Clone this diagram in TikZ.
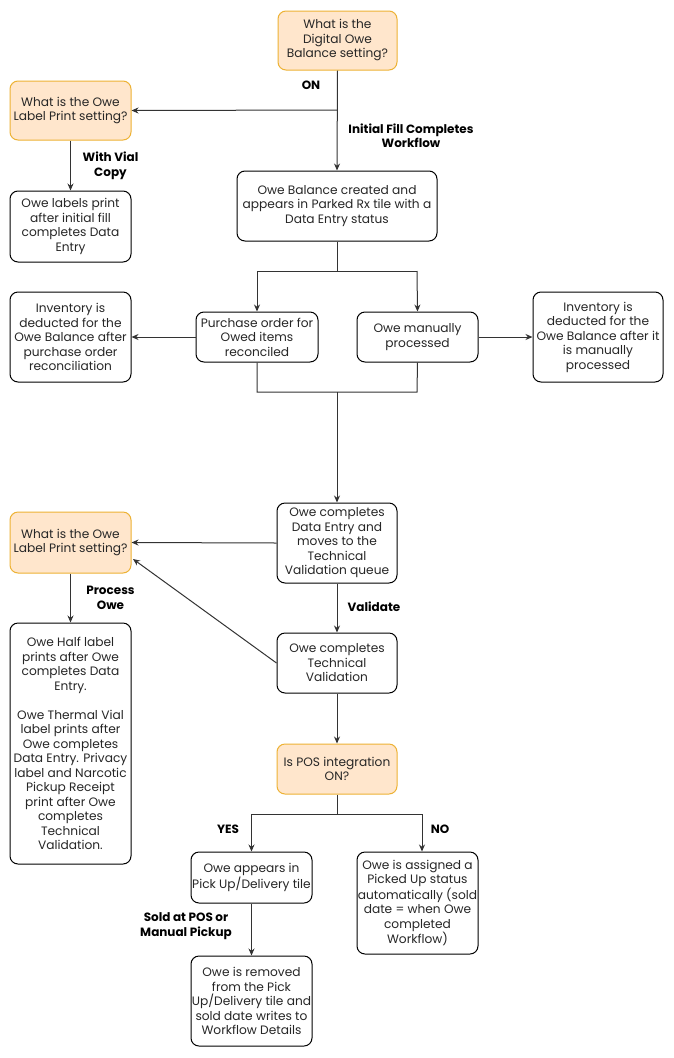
\documentclass[tikz,border=0pt]{standalone}
\usepackage{fontspec}
\setmainfont{Poppins}
\usetikzlibrary{arrows.meta,positioning}
\definecolor{ofill}{HTML}{FFE6CC}
\definecolor{odraw}{HTML}{EDB234}
\definecolor{line}{HTML}{333333}
\tikzset{
  box/.style={draw=black, line width=1pt, rounded corners=8pt, align=center, inner sep=0.5pt,
    font=\fontsize{12.2}{14.5}\selectfont, text=black!85},
  qbox/.style={box, draw=odraw, fill=ofill},
  conn/.style={draw=line, line width=1pt},
  arr/.style={conn, -{Stealth[length=7pt,width=6pt]}},
  lbl/.style={font=\bfseries\fontsize{12}{14.5}\selectfont, align=center, text=black}
}
\begin{document}
\begin{tikzpicture}[x=1pt,y=-1pt]
\useasboundingbox (0,0) rectangle (674,1058);
\fill[white] (0,0) rectangle (674,1058);
% nodes
\node[qbox, minimum width=119pt, minimum height=59pt] (digital) at (337.5,40.5) {What is the\\Digital Owe\\Balance setting?};
\node[qbox, minimum width=121pt, minimum height=59pt] (label1) at (70.5,110.5) {What is the Owe\\Label Print setting?};
\node[box, minimum width=121pt, minimum height=71pt] (labels) at (70.5,226.5) {Owe labels print\\after initial fill\\completes Data\\Entry};
\node[box, minimum width=200pt, minimum height=70pt] (created) at (337,206) {Owe Balance created and\\appears in Parked Rx tile with a\\Data Entry status};
\node[box, minimum width=122pt, minimum height=50pt] (po) at (257,337) {Purchase order for\\Owed items\\reconciled};
\node[box, minimum width=121pt, minimum height=50pt] (manual) at (417.5,337) {Owe manually\\processed};
\node[box, minimum width=121pt, minimum height=90pt] (invl) at (70.5,337) {Inventory is\\deducted for the\\Owe Balance after\\purchase order\\reconciliation};
\node[box, minimum width=130pt, minimum height=90pt] (invr) at (598,337) {Inventory is\\deducted for the\\Owe Balance after it\\is manually\\processed};
\node[box, minimum width=120pt, minimum height=80pt] (de) at (337,543) {Owe completes\\Data Entry and\\moves to the\\Technical\\Validation queue};
\node[qbox, minimum width=121pt, minimum height=61pt] (label2) at (70.5,542.5) {What is the Owe\\Label Print setting?};
\node[box, minimum width=121pt, minimum height=241pt] (half) at (70.5,743.5) {Owe Half label\\prints after Owe\\completes Data\\Entry.\\[14.5pt]Owe Thermal Vial\\label prints after\\Owe completes\\Data Entry. Privacy\\label and Narcotic\\Pickup Receipt\\print after Owe\\completes\\Technical\\Validation.};
\node[box, minimum width=120pt, minimum height=60pt] (tv) at (337,663) {Owe completes\\Technical\\Validation};
\node[qbox, minimum width=120pt, minimum height=50pt] (pos) at (337,769) {Is POS integration\\ON?};
\node[box, minimum width=121pt, minimum height=51pt] (pick) at (251.5,877.5) {Owe appears in\\Pick Up/Delivery tile};
\node[box, minimum width=121pt, minimum height=102pt] (auto) at (417.5,903) {Owe is assigned a\\Picked Up status\\automatically (sold\\date = when Owe\\completed\\Workflow)};
\node[box, minimum width=121pt, minimum height=90pt] (removed) at (251.5,1001) {Owe is removed\\from the Pick\\Up/Delivery tile and\\sold date writes to\\Workflow Details};
% coordinates
\coordinate (b1) at (337,110);
\coordinate (s1) at (337,271);
\coordinate (s1l) at (257,271);
\coordinate (s1r) at (417,271);
\coordinate (m1l) at (257,392);
\coordinate (m1r) at (417,392);
\coordinate (m1) at (337,392);
\coordinate (s2) at (337,814);
\coordinate (s2l) at (251.5,814);
\coordinate (s2r) at (422,814);
\coordinate (diagend) at (133,559);
% connectors
\draw[arr] (digital.south) -- (created.north);
\draw[arr] (b1) -- (label1.east);
\draw[arr] (label1.south) -- (labels.north);
\draw[conn] (created.south) -- (s1);
\draw[conn] (s1l) -- (s1r);
\draw[arr] (s1l) -- (po.north);
\draw[arr] (s1r) -- (manual.north);
\draw[arr] (po.west) -- (invl.east);
\draw[arr] (manual.east) -- (invr.west);
\draw[conn] (po.south) -- (m1l) -- (m1r) -- (manual.south);
\draw[arr] (m1) -- (de.north);
\draw[arr] (de.west) -- (label2.east);
\draw[arr] (tv.west) -- (diagend);
\draw[arr] (label2.south) -- (half.north);
\draw[arr] (de.south) -- (tv.north);
\draw[arr] (tv.south) -- (pos.north);
\draw[conn] (pos.south) -- (s2);
\draw[conn] (s2l) -- (s2r);
\draw[arr] (s2l) -- (pick.north);
\draw[arr] (s2r) -- (s2r |- auto.north);
\draw[arr] (pick.south) -- (removed.north);
% labels
\node[lbl] (lon) at (311,85) {ON};
\node[lbl] (lifc) at (411,135.5) {Initial Fill Completes\\Workflow};
\node[lbl] (lvial) at (110.5,166) {With Vial\\Copy};
\node[lbl] (lproc) at (110.5,598) {Process\\Owe};
\node[lbl] (lval) at (374,607) {Validate};
\node[lbl] (lyes) at (228,829) {YES};
\node[lbl] (lno) at (440,829) {NO};
\node[lbl] (lsold) at (186,926) {Sold at POS or\\Manual Pickup};
\end{tikzpicture}
\end{document}
